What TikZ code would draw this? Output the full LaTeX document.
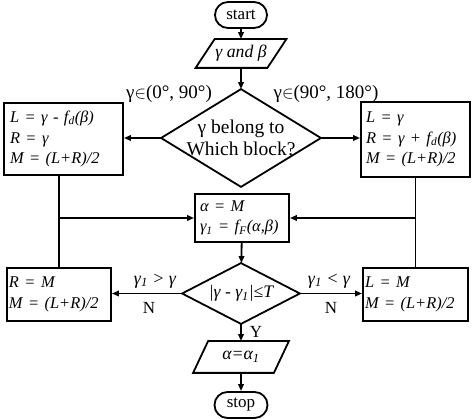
\documentclass[tikz,border=0pt]{standalone}
\usepackage{fontspec}
\setmainfont{Liberation Serif}
\usetikzlibrary{arrows.meta}
\begin{document}
\begin{tikzpicture}[x=1pt,y=-1pt,line width=1.8pt,
  arr/.style={-{Triangle[length=7pt,width=5.5pt]}},
  term/.style={draw,rounded corners=13pt,inner sep=0pt,minimum height=26pt,font=\fontsize{17}{20}\selectfont},
  plain/.style={inner sep=0pt},
  boxtxt/.style={draw,rectangle,inner sep=0pt,align=left,font=\fontsize{16.4}{20.7}\selectfont\itshape},
  lbl/.style={inner sep=0pt,font=\fontsize{19}{20}\selectfont},
  dtxt/.style={inner sep=0pt,align=center,font=\fontsize{19.5}{22}\selectfont}]
\useasboundingbox (0,0) rectangle (474,419);
% terminals
\node[term,minimum width=52pt] (start) at (241,15) {start};
\node[term,minimum width=53pt] (stop) at (241,405) {stop};
% input parallelogram
\node[plain,minimum width=89pt,minimum height=27pt,font=\fontsize{17.7}{20}\selectfont\itshape] (in1) at (241,53.5) {γ and β};
\draw ([xshift=19pt]in1.north west) -- (in1.north east) -- ([xshift=-19pt]in1.south east) -- (in1.south west) -- cycle;
% decision 1
\node[dtxt,minimum width=158pt,minimum height=96pt] (d1) at (241,138) {γ belong to\\Which block?};
\draw (d1.north) -- (d1.east) -- (d1.south) -- (d1.west) -- cycle;
% side boxes
\node[boxtxt,minimum width=119pt,minimum height=72pt,text width=107pt] (lbox) at (63.5,139) {L = γ - f\textsubscript{d}(β)\\R = γ\\M = (L+R)/2};
\node[boxtxt,minimum width=109pt,minimum height=75pt,text width=99pt] (rbox) at (415.5,139.5) {L = γ\\R = γ + f\textsubscript{d}(β)\\M = (L+R)/2};
% middle box
\node[boxtxt,minimum width=94pt,minimum height=48pt,text width=84pt] (mid) at (242,218) {α = M\\γ\textsubscript{1} = f\textsubscript{F}(α,β)};
% decision 2
\node[plain,minimum width=116pt,minimum height=59pt,font=\fontsize{17.6}{20}\selectfont\itshape] (d2) at (241,293.5) {|γ - γ\textsubscript{1}|≤T};
\draw (d2.north) -- (d2.east) -- (d2.south) -- (d2.west) -- cycle;
% lower boxes
\node[boxtxt,minimum width=104pt,minimum height=53pt,text width=100pt] (llbox) at (59,294.5) {R = M\\M = (L+R)/2};
\node[boxtxt,minimum width=105pt,minimum height=53pt,text width=101pt] (lrbox) at (415.5,294.5) {L = M\\M = (L+R)/2};
% output parallelogram
\node[plain,minimum width=94pt,minimum height=30pt,font=\fontsize{17.8}{20}\selectfont\itshape] (out) at (241,357) {α=α\textsubscript{1}};
\draw ([xshift=15pt]out.north west) -- (out.north east) -- ([xshift=-15pt]out.south east) -- (out.south west) -- cycle;
% connectors
\draw[arr] (start) -- (in1);
\draw[arr] (in1) -- (d1);
\draw[arr] (d1.west) -- (d1.west -| lbox.east);
\draw[arr] (d1.east) -- (d1.east -| rbox.west);
\draw (llbox.north |- lbox.south) -- (llbox.north);
\draw (lrbox.north |- rbox.south) -- (lrbox.north);
\draw[arr] (llbox.north |- mid.west) -- (mid.west);
\draw[arr] (lrbox.north |- mid.east) -- (mid.east);
\draw[arr] (mid) -- (d2);
\draw[arr] (d2.west) -- (d2.west -| llbox.east);
\draw[arr] (d2.east) -- (d2.east -| lrbox.west);
\draw[arr] (d2.south) -- (out);
\draw[arr] (out) -- (stop);
% labels
\node[lbl] (la) at (169,94) {γ$\in$(0°, 90°)};
\node[lbl] (lb) at (326,94) {γ$\in$(90°, 180°)};
\node[lbl,font=\fontsize{18}{20}\selectfont\itshape] (lc) at (155,281) {γ\textsubscript{1} > γ};
\node[lbl,font=\fontsize{18}{20}\selectfont\itshape] (ld) at (329,281) {γ\textsubscript{1} < γ};
\node[lbl,font=\fontsize{17}{20}\selectfont] (le) at (149,308) {N};
\node[lbl,font=\fontsize{17}{20}\selectfont] (lf) at (331,308) {N};
\node[lbl,font=\fontsize{17}{20}\selectfont] (lg) at (256,332) {Y};
\end{tikzpicture}
\end{document}
